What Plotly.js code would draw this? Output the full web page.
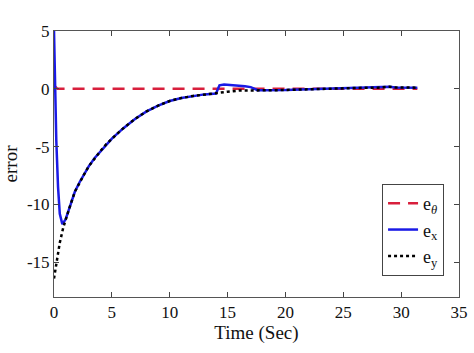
<!DOCTYPE html>
<html>
<head>
<meta charset="utf-8">
<script src="https://cdn.plot.ly/plotly-3.0.1.min.js"></script>
<style>html,body{margin:0;padding:0;background:#fff;}#chart{width:474px;height:353px;}</style>
</head>
<body>
<div id="chart"></div>
<script>
var tTheta = [0, 0.15, 0.3, 1, 5, 10, 15, 20, 25, 28, 31.4];
var eTheta = [0.3, 0.1, 0, 0, 0, 0, 0, 0, 0, 0, 0];

var tX = [0, 0.1, 0.2, 0.35, 0.5, 0.72, 0.9, 1.0, 1.3, 1.8, 2.2, 2.6, 3.0, 3.5, 4.0, 4.5, 5.0, 5.5, 6.0, 7.0, 8.0, 9.0, 10, 11, 12, 13, 14, 14.1, 14.3, 14.7, 15.5, 16.5, 17.0, 17.3, 17.6, 18, 19, 20, 22, 24, 25, 26, 27, 28, 29, 29.5, 30, 31, 31.4];
var eX = [5, 0, -4.5, -8.5, -10.8, -11.7, -11.5, -11.3, -10.4, -8.9, -8.1, -7.4, -6.7, -6.0, -5.4, -4.8, -4.3, -3.85, -3.4, -2.6, -1.95, -1.45, -1.05, -0.8, -0.62, -0.48, -0.4, -0.2, 0.3, 0.38, 0.33, 0.22, 0.15, 0.03, -0.12, -0.12, -0.12, -0.1, -0.03, 0.02, 0.05, 0.08, 0.1, 0.1, 0.18, 0.12, 0.1, 0.08, 0.1];

var tY = [0, 0.1, 0.3, 0.5, 0.8, 1.0, 1.3, 1.8, 2.2, 2.6, 3.0, 3.5, 4.0, 4.5, 5.0, 5.5, 6.0, 7.0, 8.0, 9.0, 10, 11, 12, 13, 14, 15, 16, 17, 18, 19, 20, 22, 24, 25, 26, 27, 28, 29, 29.5, 30, 31, 31.4];
var eY = [-16.4, -15.8, -14.5, -13.3, -12.0, -11.3, -10.4, -8.9, -8.1, -7.4, -6.7, -6.0, -5.4, -4.8, -4.3, -3.85, -3.4, -2.6, -1.95, -1.45, -1.05, -0.8, -0.62, -0.48, -0.4, -0.25, -0.15, -0.12, -0.12, -0.12, -0.1, -0.03, 0.02, 0.05, 0.08, 0.1, 0.1, 0.18, 0.12, 0.1, 0.08, 0.1];

var xTickVals = [0, 5, 10, 15, 20, 25, 30, 35];
var xTickText = ["0", "5", "10", "15", "20", "25", "30", "35"];
var yTickVals = [-15, -10, -5, 0, 5];
var yTickText = ["-15", "-10", "-5", "0", "5"];

var traces = [
  {x: tTheta, y: eTheta, mode: 'lines', name: 'e<sub><i>θ</i></sub>',
   line: {color: '#d81f3c', width: 2.5, dash: '12px,8px'}},
  {x: tX, y: eX, mode: 'lines', name: 'e<sub>x</sub>',
   line: {color: '#1a1ae6', width: 2.5}},
  {x: tY, y: eY, mode: 'lines', name: 'e<sub>y</sub>',
   line: {color: '#000000', width: 2.5, dash: 'dot'}}
];

var layout = {
  width: 474, height: 353,
  margin: {l: 54, r: 15, t: 31, b: 56},
  paper_bgcolor: '#fff', plot_bgcolor: '#fff',
  font: {family: 'Liberation Serif, Times New Roman, serif', size: 17, color: '#111'},
  showlegend: true,
  legend: {x: 0.81, y: 0.425, xanchor: 'left', yanchor: 'top',
           bordercolor: '#444', borderwidth: 1, bgcolor: '#fff',
           font: {size: 18}, itemwidth: 30, tracegroupgap: 0},
  xaxis: {range: [0, 35], tickmode: 'array', tickvals: xTickVals, ticktext: xTickText,
          ticks: 'inside', ticklen: 5, tickcolor: '#444', showline: true, linecolor: '#555', linewidth: 1,
          mirror: 'ticks', showgrid: false, zeroline: false,
          tickfont: {size: 17},
          title: {text: 'Time (Sec)', standoff: 4, font: {size: 19}}},
  yaxis: {range: [-18, 5], tickmode: 'array', tickvals: yTickVals, ticktext: yTickText,
          ticks: 'inside', ticklen: 5, tickcolor: '#444', showline: true, linecolor: '#555', linewidth: 1,
          mirror: 'ticks', showgrid: false, zeroline: false,
          tickfont: {size: 17},
          title: {text: 'error', standoff: 6, font: {size: 19}}}
};

Plotly.newPlot('chart', traces, layout, {displayModeBar: false, staticPlot: true});
</script>
</body>
</html>
